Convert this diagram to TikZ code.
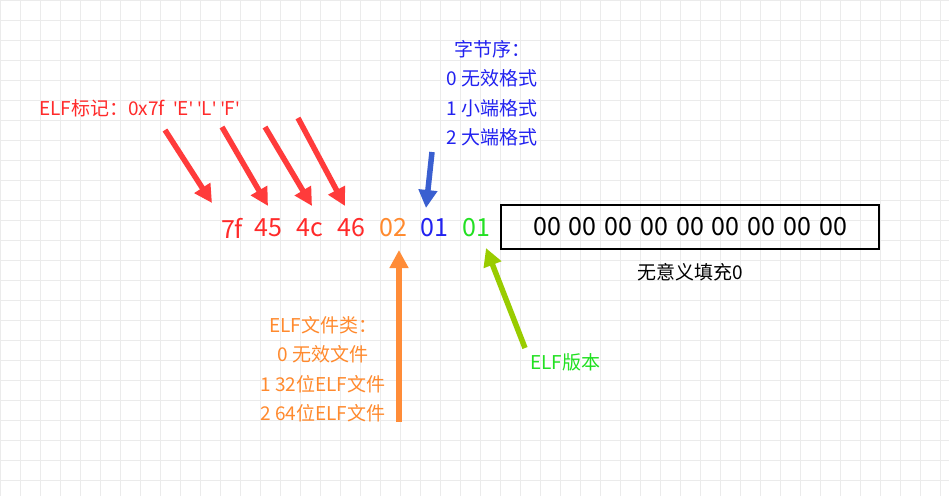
\documentclass[tikz,border=0pt]{standalone}
\usepackage{fontspec}
\setmainfont{Noto Sans CJK SC}
\newfontfamily\lat{Noto Sans}
\usetikzlibrary{arrows.meta}
\definecolor{tred}{HTML}{FF2A2A}
\definecolor{ared}{HTML}{FF3B3B}
\definecolor{torange}{HTML}{FF8A2E}
\definecolor{aorange}{HTML}{FF8C38}
\definecolor{tblue}{HTML}{2222F0}
\definecolor{ablue}{HTML}{3A5FD0}
\definecolor{tgreen}{HTML}{22E022}
\definecolor{agreen}{HTML}{99CC00}
\definecolor{gridc}{HTML}{EBEBEB}
\newcommand{\q}{{\lat\symbol{39}}}
\newcommand{\zz}{00\hspace{8pt}}
\begin{document}
\begin{tikzpicture}[x=1pt,y=-1pt,
  lbl/.style={font=\fontsize{19}{21}\selectfont,inner sep=1pt},
  big/.style={font=\fontsize{25}{27}\selectfont,inner sep=1pt},
  txt/.style={font=\fontsize{19}{29.5}\selectfont,align=center,inner sep=0pt},
  blk/.style={line width=5.5pt,-{Triangle[length=18pt,width=18pt]}}]
\useasboundingbox (0,0) rectangle (949,496);
\fill[white] (0,0) rectangle (949,496);
\foreach \i in {0,...,48} \draw[gridc,line width=0.6pt] (\i*20,0) -- (\i*20,496);
\foreach \i in {0,...,25} \draw[gridc,line width=0.6pt] (0,\i*20) -- (949,\i*20);
\node[lbl,text=tred,anchor=west] (mark) at (38,108) {ELF标记：0x7f\ \ \q E\q\ \q L\q\ \q F\q};
\node[big,text=tred] (b0) at (232,228) {7f};
\node[big,text=tred] (b1) at (268,228) {45};
\node[big,text=tred] (b2) at (310,228) {4c};
\node[big,text=tred] (b3) at (351,228) {46};
\node[big,text=torange] (b4) at (393,228) {02};
\node[big,text=tblue] (b5) at (434,228) {01};
\node[big,text=tgreen] (b6) at (476,228) {01};
\node[big,draw=black,line width=2.5pt,minimum width=378pt,minimum height=44pt] (pad) at (690,227) {\zz\zz\zz\zz\zz\zz\zz\zz 00};
\node[lbl] (padl) at (690,272) {无意义填充0};
\node[txt,text=tblue] (endi) at (492,93) {字节序：\\0 无效格式\\1 小端格式\\2 大端格式};
\node[txt,text=torange] (cls) at (323,369) {ELF文件类：\\0 无效文件\\1 32位ELF文件\\2 64位ELF文件};
\node[lbl,text=tgreen] (ver) at (565,362) {ELF版本};
\coordinate (r0) at (165,130);
\coordinate (r1) at (222,127);
\coordinate (r2) at (265,127);
\coordinate (r3) at (298,118);
\coordinate (bs) at (432,152);
\coordinate (os) at (399,422);
\coordinate (gs) at (525,348);
\draw[blk,ared] (r0) -- (212,203);
\draw[blk,ared] (r1) -- (268,206);
\draw[blk,ared] (r2) -- (312,206);
\draw[blk,ared] (r3) -- (345,206);
\draw[blk,ablue] (bs) -- (426,208);
\draw[blk,aorange] (os) -- (399,250);
\draw[blk,agreen] (gs) -- (486,248);
\end{tikzpicture}
\end{document}
